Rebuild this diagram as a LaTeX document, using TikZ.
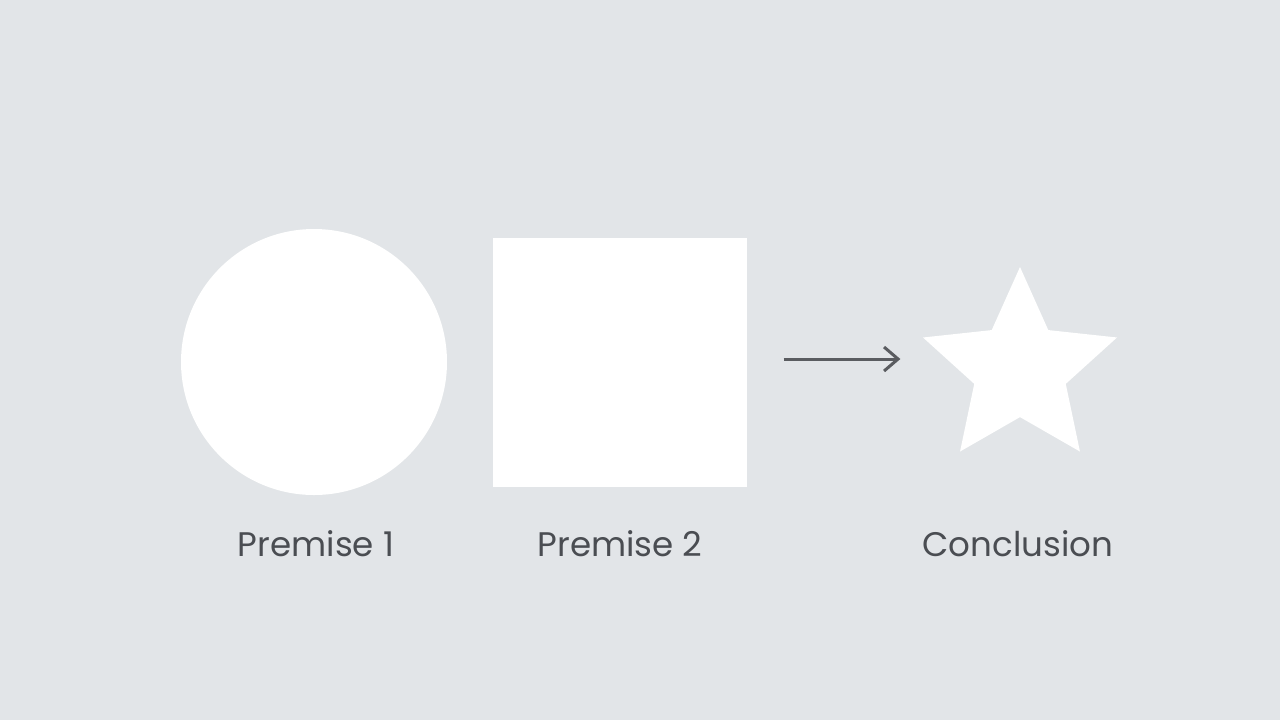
\documentclass[tikz,border=0pt]{standalone}
\usepackage{fontspec}
\setmainfont{Poppins}
\usetikzlibrary{shapes.geometric, arrows.meta}
\definecolor{bggray}{HTML}{E2E5E8}
\definecolor{inkgray}{HTML}{4A4D52}
\definecolor{arrowgray}{HTML}{5A5C60}

\begin{document}
\begin{tikzpicture}[x=0.1mm, y=-0.1mm]
    % Define styles
    \tikzset{
        shapebox/.style={fill=white, draw=none, inner sep=0pt},
        caption/.style={text=inkgray, anchor=base, font=\fontsize{9.7}{12}\selectfont},
        flow/.style={-{Straight Barb[length=1.4mm, width=2.4mm]}, draw=arrowgray, line width=0.3mm}
    }
    
    % Background
    \fill[bggray] (0,0) rectangle (1280,720);
    
    % Premises
    \node[shapebox, circle, minimum size=26.6mm] (circ) at (314,362) {};
    \node[shapebox, rectangle, minimum width=25.4mm, minimum height=24.9mm] (sq) at (620,362.5) {};
    
    % Conclusion
    \node[shapebox, star, star points=5, star point ratio=2.12, minimum size=20.4mm] (st) at (1020,369) {};
    
    % Labels
    \node[caption] (circlab) at (316,556) {Premise 1};
    \node[caption] (sqlab) at (620,556) {Premise 2};
    \node[caption] (stlab) at (1018,556) {Conclusion};
    
    % Arrow
    \draw[flow, shorten <=3.6mm, shorten >=2.1mm] (sq.east |- 0,359) -- (st.outer point 2 |- 0,359);
    
\end{tikzpicture}
\end{document}
